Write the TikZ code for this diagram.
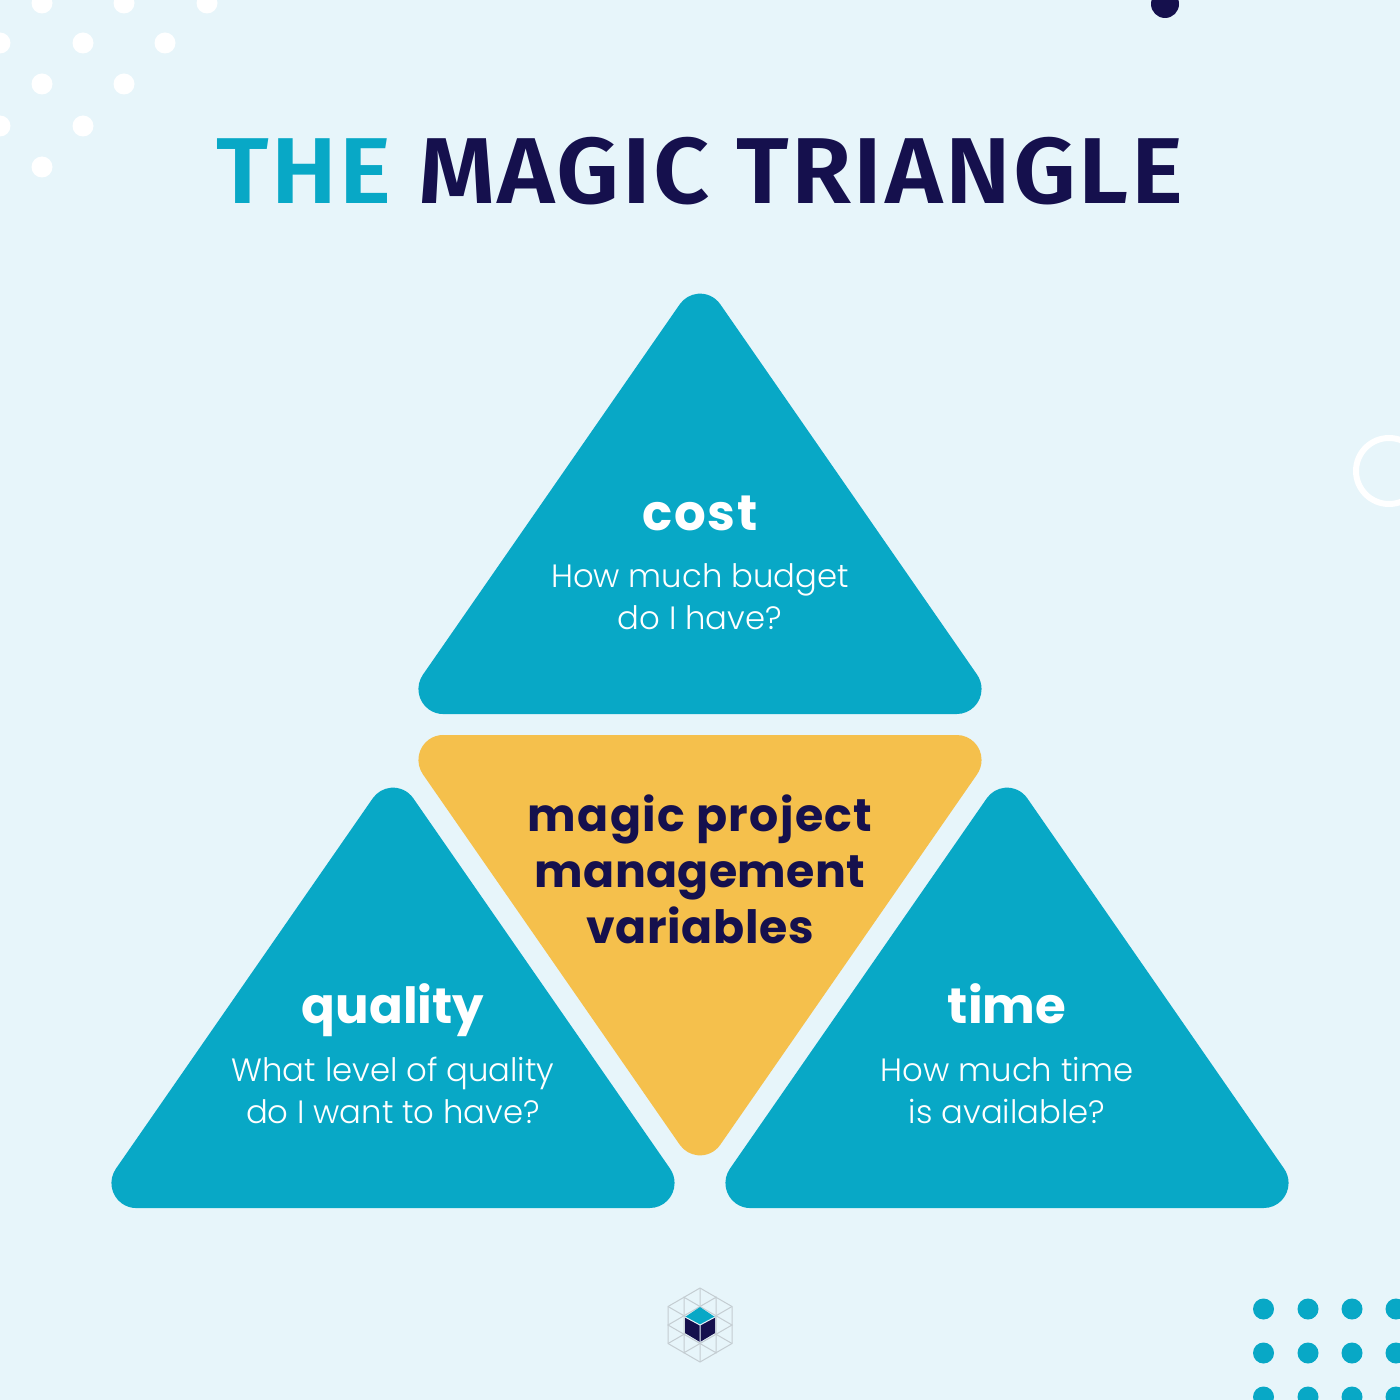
\documentclass[tikz,border=0pt]{standalone}
\usepackage{fontspec}
\setmainfont{Poppins}
\newfontfamily\lightf{Poppins Light}
\newfontfamily\titlef{Fira Sans SemiBold}[FakeStretch=1.05,LetterSpace=2.6]
\newfontfamily\boldf{Poppins Bold}
\newfontfamily\boldsp{Poppins Bold}[LetterSpace=3]
\newfontfamily\boldspb{Poppins Bold}[LetterSpace=0.8]
\newfontfamily\boldspc{Poppins Bold}[LetterSpace=1.4]
\newfontfamily\boldcost{Poppins Bold}[LetterSpace=4]
\definecolor{bgc}{HTML}{E7F5FA}
\definecolor{tealc}{HTML}{08A8C6}
\definecolor{navyc}{HTML}{15104D}
\definecolor{yelc}{HTML}{F5C04C}
\definecolor{gridc}{HTML}{C4CDD2}
\newcommand{\roundtri}[1]{\fill[#1] (-259.4,0) -- (259.4,0) arc[start angle=-90,end angle=35,radius=25] -- (20.5,409.7) arc[start angle=35,end angle=145,radius=25] -- (-279.9,39.3) arc[start angle=145,end angle=270,radius=25] -- cycle;}
\tikzset{
  head/.style={font=\boldf\fontsize{50}{50}\selectfont,text=white,inner sep=0,anchor=base},
  sub/.style={font=\lightf\fontsize{32.4}{32.4}\selectfont,text=white,inner sep=0,anchor=base},
  mid/.style={text=navyc,inner sep=0,anchor=base},
  wdot/.style={fill=white},
  tdot/.style={fill=tealc},
}
\begin{document}
\begin{tikzpicture}[x=1bp,y=-1bp]
\useasboundingbox (0,0) rectangle (1400,1400);
\clip (0,0) rectangle (1400,1400);
\fill[bgc] (0,0) rectangle (1400,1400);
% decorative dots
\foreach \x/\y in {42/3,124/3,207/3,0/43,83/43,165/43,42/84,124/84,0/126,83/126,42/167}
  \fill[wdot] (\x,\y) circle[radius=10.5];
\foreach \x in {1263.5,1308,1352,1396}
  \foreach \y in {1309,1353,1397}
    \fill[tdot] (\x,\y) circle[radius=10.5];
\fill[navyc] (1165,4) circle[radius=14];
\draw[white,line width=6bp] (1389,471) circle[radius=33];
% title
\node[inner sep=0,anchor=base] (title) at (700,204) {\titlef\fontsize{94}{94}\selectfont\textcolor{tealc}{THE} \textcolor{navyc}{MAGIC TRIANGLE}};
% triangles
\begin{scope}[shift={(700,714)},yscale=-1,xscale=.99]\roundtri{tealc}\end{scope}
\begin{scope}[shift={(393,1208)},yscale=-1,xscale=.99]\roundtri{tealc}\end{scope}
\begin{scope}[shift={(1007,1208)},yscale=-1,xscale=.99]\roundtri{tealc}\end{scope}
\begin{scope}[shift={(700,735)},xscale=.99]\roundtri{yelc}\end{scope}
% text
\node[head,font=\boldcost\fontsize{50}{50}\selectfont] (cost) at (700,530) {cost};
\node[sub] (costa) at (700,587) {How much budget};
\node[sub] (costb) at (700,629) {do I have?};
\node[mid,font=\boldsp\fontsize{46}{46}\selectfont] (mida) at (700,831) {magic project};
\node[mid,font=\boldspb\fontsize{46}{46}\selectfont] (midb) at (700,887) {management};
\node[mid,font=\boldspc\fontsize{46}{46}\selectfont] (midc) at (700,943) {variables};
\node[head] (quality) at (393,1023) {quality};
\node[sub] (qa) at (393,1081) {What level of quality};
\node[sub] (qb) at (393,1123) {do I want to have?};
\node[head] (time) at (1007,1023) {time};
\node[sub] (ta) at (1007,1081) {How much time};
\node[sub] (tb) at (1007,1123) {is available?};
% logo
\begin{scope}[shift={(700,1325)}]
\draw[gridc,line width=1bp,line join=round] (0,-37) -- (32,-18.5) -- (32,18.5) -- (0,37) -- (-32,18.5) -- (-32,-18.5) -- cycle;
\draw[gridc,line width=1bp] (0,-37) -- (0,37) (32,-18.5) -- (-32,18.5) (32,18.5) -- (-32,-18.5);
\draw[gridc,line width=1bp] (-16,-27.75) -- (-16,27.75) -- (32,0) -- cycle;
\draw[gridc,line width=1bp] (16,-27.75) -- (16,27.75) -- (-32,0) -- cycle;
\fill[tealc] (0,-18) -- (15,-8) -- (0,0) -- (-15,-8) -- cycle;
\fill[navyc] (-15,-8) -- (0,0) -- (0,17) -- (-15,8) -- cycle;
\fill[navyc] (15,-8) -- (0,0) -- (0,17) -- (15,8) -- cycle;
\draw[bgc,line width=1bp] (-15,-8) -- (0,0) -- (15,-8) (0,0) -- (0,17);
\end{scope}
\end{tikzpicture}
\end{document}
